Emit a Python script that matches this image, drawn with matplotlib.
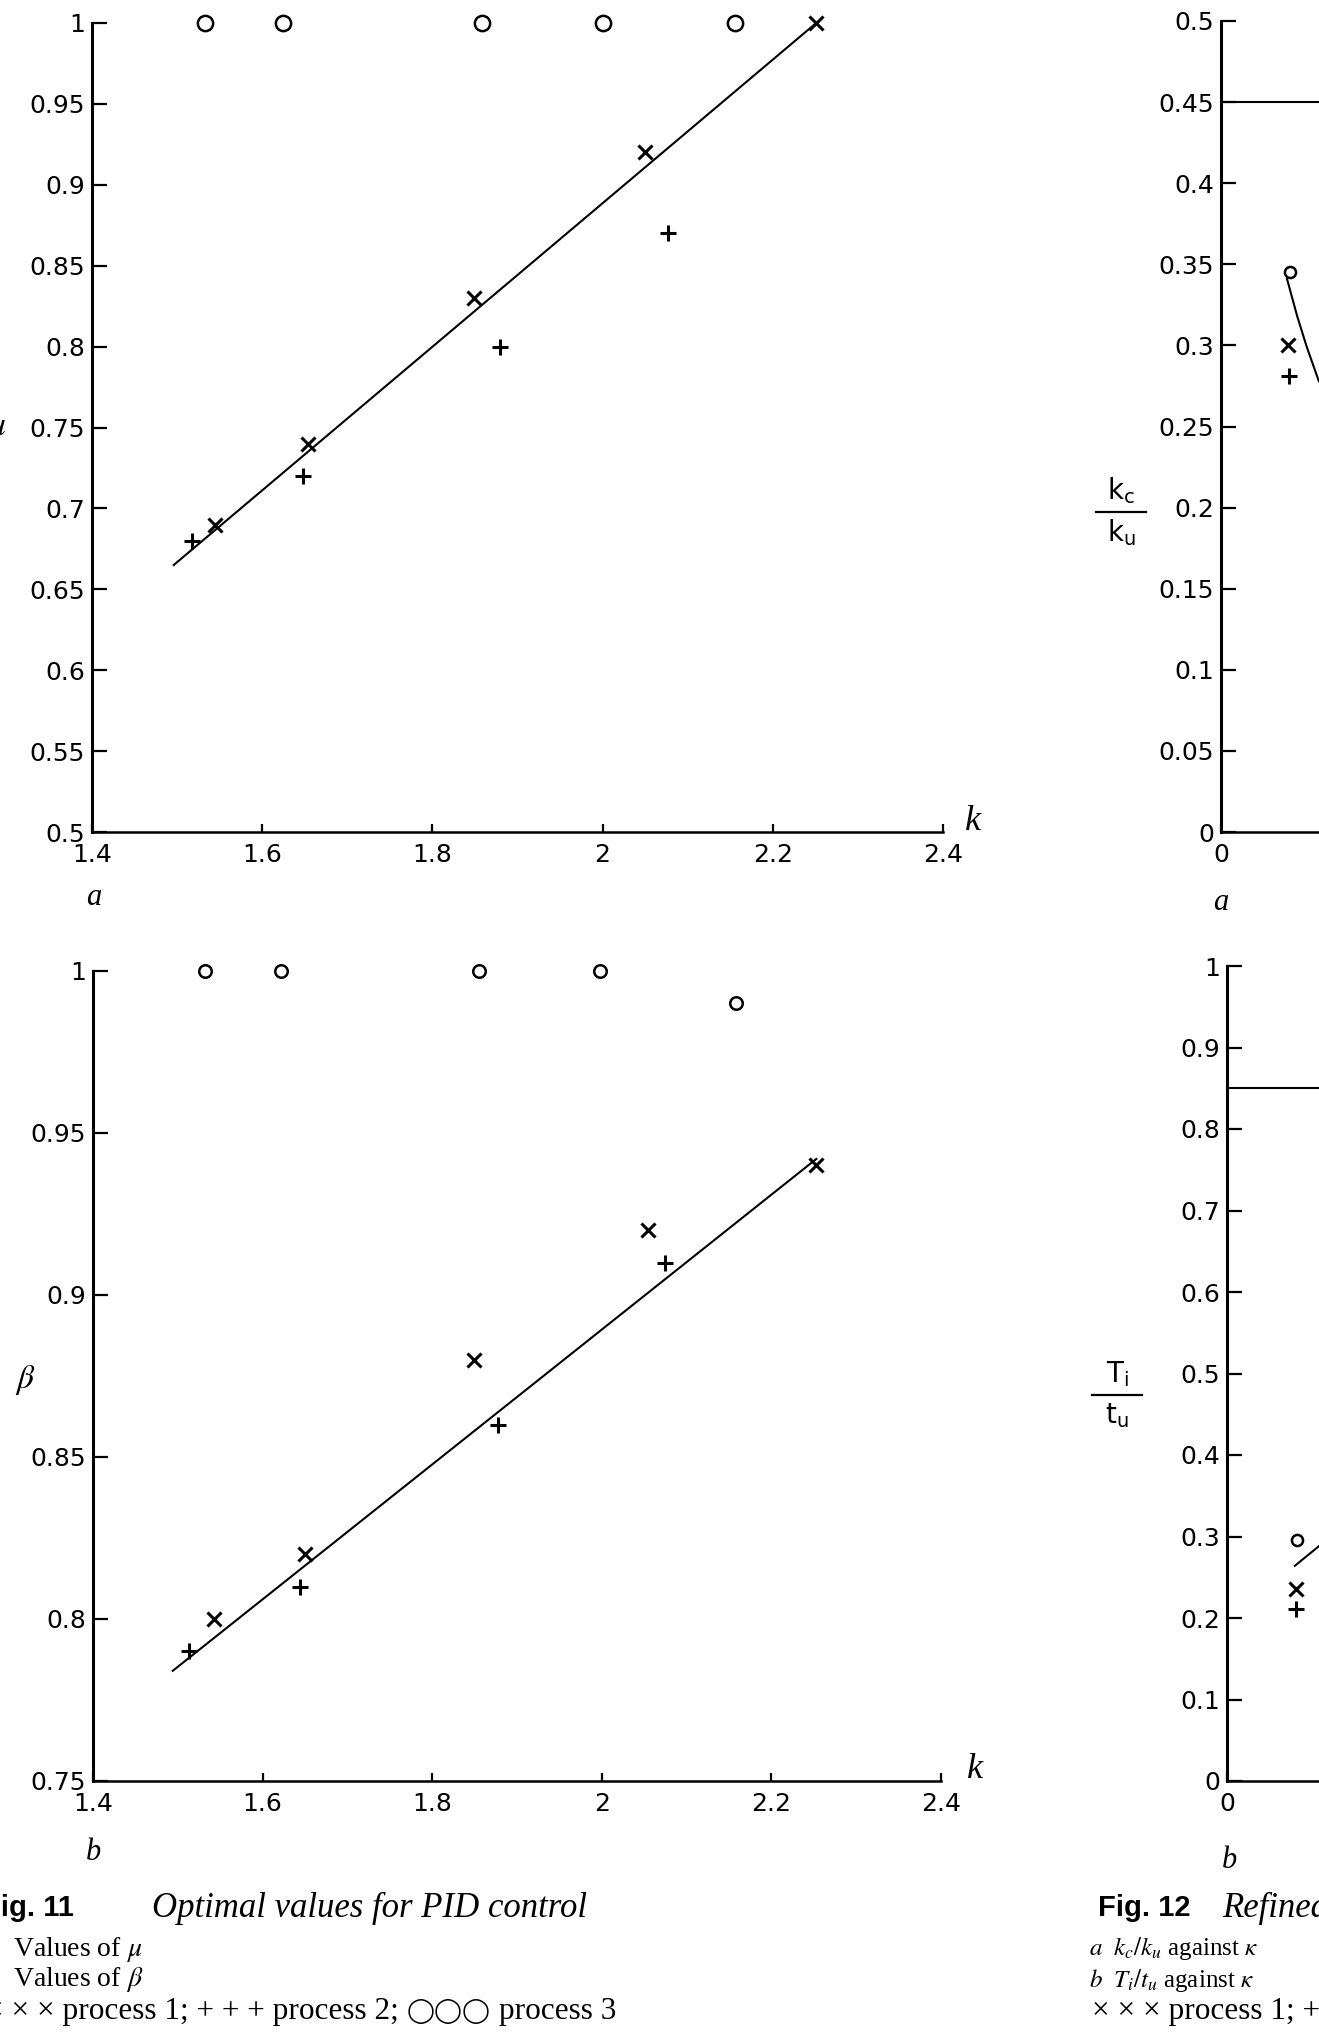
import matplotlib
matplotlib.use("Agg")
import matplotlib.pyplot as plt
from matplotlib.lines import Line2D

W, H = 1319, 2038

# Fig. 11a  -  mu against kappa
mu_circ_k = [1.533, 1.624, 1.858, 2.000, 2.156]
mu_circ = [1.0, 1.0, 1.0, 1.0, 1.0]
mu_x_k = [1.545, 1.654, 1.849, 2.050, 2.251]
mu_x = [0.69, 0.74, 0.83, 0.92, 1.0]
mu_p_k = [1.517, 1.648, 1.879, 2.077]
mu_p = [0.68, 0.72, 0.80, 0.87]
mu_fit_k = [1.496, 2.251]
mu_fit = [0.665, 1.0]
mu_ticks = [0.5, 0.55, 0.6, 0.65, 0.7, 0.75, 0.8, 0.85, 0.9, 0.95, 1.0]
mu_labels = ["0.5", "0.55", "0.6", "0.65", "0.7", "0.75", "0.8", "0.85", "0.9", "0.95", "1"]

# Fig. 11b  -  beta against kappa
beta_circ_k = [1.532, 1.622, 1.855, 1.998, 2.158]
beta_circ = [1.0, 1.0, 1.0, 1.0, 0.99]
beta_x_k = [1.543, 1.650, 1.849, 2.054, 2.253]
beta_x = [0.80, 0.82, 0.88, 0.92, 0.94]
beta_p_k = [1.513, 1.644, 1.878, 2.075]
beta_p = [0.79, 0.81, 0.86, 0.91]
beta_fit_k = [1.494, 2.253]
beta_fit = [0.784, 0.942]
beta_ticks = [0.75, 0.8, 0.85, 0.9, 0.95, 1.0]
beta_labels = ["0.75", "0.8", "0.85", "0.9", "0.95", "1"]

k_ticks = [1.4, 1.6, 1.8, 2.0, 2.2, 2.4]
k_labels = ["1.4", "1.6", "1.8", "2", "2.2", "2.4"]

# Fig. 12a  -  kc/ku against kappa (only the left edge is in the crop)
kc_zn = 0.45
kc_circ_k, kc_circ = [1.15], [0.345]
kc_x_k, kc_x = [1.12], [0.30]
kc_p_k, kc_p = [1.13], [0.281]
kc_curve_k = [1.10, 1.27, 1.43, 1.63]
kc_curve = [0.341, 0.318, 0.299, 0.278]
kc_ticks = [0, 0.05, 0.1, 0.15, 0.2, 0.25, 0.3, 0.35, 0.4, 0.45, 0.5]
kc_labels = ["0", "0.05", "0.1", "0.15", "0.2", "0.25", "0.3", "0.35", "0.4", "0.45", "0.5"]

# Fig. 12b  -  Ti/tu against kappa
ti_zn = 0.85
ti_circ_k, ti_circ = [1.17], [0.296]
ti_x_k, ti_x = [1.15], [0.236]
ti_p_k, ti_p = [1.15], [0.211]
ti_curve_k = [1.13, 1.53]
ti_curve = [0.264, 0.288]
ti_ticks = [0, 0.1, 0.2, 0.3, 0.4, 0.5, 0.6, 0.7, 0.8, 0.9, 1.0]
ti_labels = ["0", "0.1", "0.2", "0.3", "0.4", "0.5", "0.6", "0.7", "0.8", "0.9", "1"]

right_ticks = [0]
right_labels = ["0"]

plt.rcParams["font.family"] = ["DejaVu Sans"]
plt.rcParams["mathtext.fontset"] = "stix"

fig = plt.figure(figsize=(W / 100, H / 100), dpi=100)
renderer = fig.canvas.get_renderer()


def add_ax(left, top, right, bottom):
    return fig.add_axes([left / W, 1 - bottom / H, (right - left) / W, (bottom - top) / H])


def txt(x, y, s, **kw):
    return fig.text(x / W, 1 - y / H, s, **kw)


def chain(x, y, parts):
    # write pieces one after another on a caption line
    for s, kw in parts:
        t = txt(x, y, s, ha="left", va="center", **kw)
        x = t.get_window_extent(renderer).x1


def style(ax, xlim, ylim, xt, xl, yt, yl):
    ax.set_xlim(*xlim)
    ax.set_ylim(*ylim)
    ax.set_xticks(xt)
    ax.set_xticklabels(xl)
    ax.set_yticks(yt)
    ax.set_yticklabels(yl)
    for s in ["top", "right"]:
        ax.spines[s].set_visible(False)
    ax.spines["left"].set_linewidth(2.2)
    ax.spines["bottom"].set_linewidth(1.8)
    ax.tick_params(axis="y", direction="in", length=11, width=1.6, pad=5, labelsize=18)
    ax.tick_params(axis="x", direction="in", length=6, width=1.6, pad=8, labelsize=18)
    ax.patch.set_alpha(0)


def points(ax, ck, cv, xk, xv, pk, pv, ms_o=11):
    ax.plot(ck, cv, "o", ms=ms_o, mfc="none", mec="black", mew=1.8, clip_on=False)
    ax.plot(xk, xv, "x", ms=10, mec="black", mew=2.2, clip_on=False)
    ax.plot(pk, pv, "+", ms=11, mec="black", mew=2.2, clip_on=False)


def fraction(x, y, num, den):
    # stacked label with a rule between, in pixel coordinates
    txt(x, y - 21, num, ha="center", va="center", fontsize=20)
    txt(x, y + 21, den, ha="center", va="center", fontsize=20)
    fig.add_artist(Line2D([(x - 25) / W, (x + 25) / W], [1 - y / H, 1 - y / H],
                          transform=fig.transFigure, color="black", lw=1.6))


# Fig. 11a
ax1 = add_ax(92, 23, 943, 832)
style(ax1, (1.4, 2.4), (0.5, 1.0), k_ticks, k_labels, mu_ticks, mu_labels)
points(ax1, mu_circ_k, mu_circ, mu_x_k, mu_x, mu_p_k, mu_p)
ax1.plot(mu_fit_k, mu_fit, color="black", lw=1.5)

# Fig. 11b
ax2 = add_ax(93, 971, 941, 1781)
style(ax2, (1.4, 2.4), (0.75, 1.0), k_ticks, k_labels, beta_ticks, beta_labels)
points(ax2, beta_circ_k, beta_circ, beta_x_k, beta_x, beta_p_k, beta_p, ms_o=9)
ax2.plot(beta_fit_k, beta_fit, color="black", lw=1.5)

# Fig. 12a
ax3 = add_ax(1221, 21, 1221 + 900, 832)
style(ax3, (0, 15), (0, 0.5), right_ticks, right_labels, kc_ticks, kc_labels)
ax3.axhline(kc_zn, color="black", lw=1.5)
points(ax3, kc_circ_k, kc_circ, kc_x_k, kc_x, kc_p_k, kc_p, ms_o=8)
ax3.plot(kc_curve_k, kc_curve, color="black", lw=1.5)

# Fig. 12b
ax4 = add_ax(1227, 966, 1227 + 900, 1781)
style(ax4, (0, 15), (0, 1.0), right_ticks, right_labels, ti_ticks, ti_labels)
ax4.axhline(ti_zn, color="black", lw=1.5)
points(ax4, ti_circ_k, ti_circ, ti_x_k, ti_x, ti_p_k, ti_p, ms_o=8)
ax4.plot(ti_curve_k, ti_curve, color="black", lw=1.5)

# axis labels
serif = "Liberation Serif"
txt(6, 428, r"$\mu$", ha="right", va="center", fontsize=24)
txt(25, 1380, r"$\beta$", ha="center", va="center", fontsize=24)
txt(973, 821, "k", ha="center", va="center", fontsize=26, family=serif, style="italic")
txt(975, 1769, "k", ha="center", va="center", fontsize=26, family=serif, style="italic")
fraction(1121, 512, r"$\mathregular{k_c}$", r"$\mathregular{k_u}$")
fraction(1117, 1395, r"$\mathregular{T_i}$", r"$\mathregular{t_u}$")

for x, y, s in [(94, 897, "a"), (93, 1853, "b"), (1221, 903, "a"), (1229, 1861, "b")]:
    txt(x, y, s, ha="center", va="center", fontsize=22, family=serif, style="italic")

# captions
body = dict(fontsize=22.5, family=[serif, "DejaVu Sans"])
circles = dict(fontsize=18, family="DejaVu Sans")
proc_parts = [("\u00d7 \u00d7 \u00d7 process 1; + + + process 2; ", body),
              ("\u25ef\u25ef\u25ef", circles),
              (" process 3", body)]

txt(-17, 1908, "Fig. 11", ha="left", va="center", fontsize=21, family="Liberation Sans", weight="bold")
txt(152, 1908, "Optimal values for PID control", ha="left", va="center", fontsize=25,
    family=serif, style="italic")
txt(-30, 1949, "a", ha="left", va="center", fontsize=20, family=serif, style="italic")
txt(13, 1949, r"Values of $\mu$", ha="left", va="center", fontsize=20, family=serif)
txt(-30, 1980, "b", ha="left", va="center", fontsize=20, family=serif, style="italic")
txt(13, 1980, r"Values of $\beta$", ha="left", va="center", fontsize=20, family=serif)
chain(-14, 2011, proc_parts)

txt(1098, 1908, "Fig. 12", ha="left", va="center", fontsize=21, family="Liberation Sans", weight="bold")
txt(1222, 1908, "Refined Ziegler-Nichols formula for PI control", ha="left", va="center",
    fontsize=25, family=serif, style="italic")
txt(1089, 1949, r"$a\ \ k_c/k_u$ against $\kappa$", ha="left", va="center", fontsize=18, family=serif)
txt(1089, 1980, r"$b\ \ T_i/t_u$ against $\kappa$", ha="left", va="center", fontsize=18, family=serif)
chain(1092, 2011, proc_parts)

fig.savefig("out.png", dpi=100)
